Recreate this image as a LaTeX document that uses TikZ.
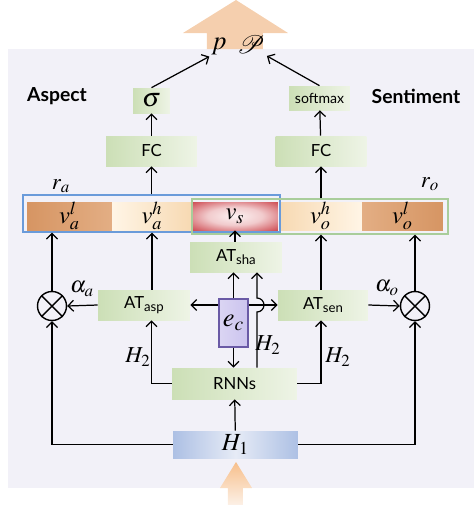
\documentclass[tikz,border=0pt]{standalone}
\usepackage{mathptmx}
\usepackage{mathrsfs}
\usepackage{amsmath}
\usepackage{fontspec}
\setsansfont{Lato}
\usetikzlibrary{arrows.meta,calc}

\definecolor{panelbg}{HTML}{F2F1F8}
\definecolor{peach}{HTML}{F5CFAE}
\definecolor{boxgreen}{HTML}{CCDFB6}
\definecolor{boxlight}{HTML}{EEF4E6}
\definecolor{cellbrown}{HTML}{D69563}
\definecolor{cellbrownl}{HTML}{E3AE84}
\definecolor{cream}{HTML}{FFF5E6}
\definecolor{creamd}{HTML}{F7D9B2}
\definecolor{vsred}{HTML}{C62F37}
\definecolor{vspink}{HTML}{FCF2F2}
\definecolor{hblue}{HTML}{ADC0E4}
\definecolor{hbluel}{HTML}{E6EBF6}
\definecolor{ecfill}{HTML}{CBC3EE}
\definecolor{ecline}{HTML}{6A5AA6}
\definecolor{raline}{HTML}{6A9BDA}
\definecolor{roline}{HTML}{A9CD9B}

\pgfdeclareradialshading{vsshade}{\pgfpoint{0bp}{0bp}}{color(0bp)=(vspink); color(16bp)=(vspink!80!vsred); color(40bp)=(vsred); color(50bp)=(vsred!92!black)}

\newcommand{\atsub}[1]{AT{\fontsize{7.5}{8}\selectfont\raisebox{-0.4ex}{#1}}}

\begin{document}
\begin{tikzpicture}[x=0.02cm,y=-0.02cm,
		arr/.style={-{Straight Barb[length=1.1mm,width=2.2mm]},line width=0.7pt},
		gbox/.style={left color=boxgreen,right color=boxlight,minimum width=1.84cm,minimum height=0.6cm,inner sep=0pt,font=\sffamily\fontsize{9.5}{10}\selectfont},
		cell/.style={minimum height=0.56cm,inner sep=0pt,font=\fontsize{14}{14}\selectfont},
		mul/.style={circle,draw,line width=0.8pt,minimum size=0.58cm,inner sep=0pt},
		lbl/.style={inner sep=1pt,font=\fontsize{13}{13}\selectfont},
		side/.style={font=\sffamily\bfseries\fontsize{11}{12}\selectfont}]
				
				\useasboundingbox (0,0) rectangle (474,505);
				\fill[panelbg] (8,49) rectangle (474,488);
				% output and input arrows
				\fill[peach] (183,33) -- (236,0) -- (288,33) -- (263,33) -- (263,49) -- (207,49) -- (207,33) -- cycle;
				\shade[top color=peach!80!orange,bottom color=peach!30] (220,488) -- (236,462) -- (252,488) -- (243,488) -- (243,505) -- (228,505) -- (228,488) -- cycle;
				
				\node[lbl,font=\fontsize{15}{15}\selectfont] (pp) at (219,46) {$p$};
				\node[lbl,font=\fontsize{15}{15}\selectfont] (PP) at (251,45) {$\mathscr{P}$};
				\node[side] (aspect) at (57,96) {Aspect};
				\node[side] (senti) at (416,96) {Sentiment};
				
				\node[gbox,minimum width=0.74cm,minimum height=0.5cm,font=\fontsize{15}{15}\selectfont] (sig) at (151.5,100.5) {$\sigma$};
				\node[gbox,minimum width=1.22cm,minimum height=0.48cm,font=\sffamily\fontsize{8}{9}\selectfont] (smax) at (319.5,98) {softmax};
				\node[gbox,minimum width=1.82cm] (fcA) at (151.5,151) {FC};
				\node[gbox,minimum width=1.82cm] (fcO) at (321,151) {FC};
				
				% vector row
				\node[cell,minimum width=1.7cm,left color=cellbrown,right color=cellbrownl] (cAl) at (69.5,216) {$v_a^l$};
				\node[cell,minimum width=1.6cm,left color=cream,right color=creamd] (cAh) at (152,216) {$v_a^h$};
				\node[cell,minimum width=1.72cm,shading=vsshade] (cS) at (235,216) {$v_s$};
				\node[cell,minimum width=1.66cm,left color=creamd,right color=cream] (cOh) at (320.5,216) {$v_o^h$};
				\node[cell,minimum width=1.62cm,left color=cellbrownl,right color=cellbrown] (cOl) at (402.5,216) {$v_o^l$};
				\node[draw=raline,line width=0.8pt,minimum width=5.14cm,minimum height=0.74cm] (ra) at (151.5,213.5) {};
				\node[draw=roline,line width=0.8pt,minimum width=5.12cm,minimum height=0.7cm] (ro) at (320,216.5) {};
				\node[lbl] (raL) at (61,186) {$r_a$};
				\node[lbl] (roL) at (430,184) {$r_o$};
				
				\node[gbox] (atsha) at (236,257) {\atsub{sha}};
				\node[gbox] (atasp) at (144,305) {\atsub{asp}};
				\node[gbox,minimum width=1.8cm] (atsen) at (323,305) {\atsub{sen}};
				\node[draw=ecline,line width=0.6pt,left color=ecfill!70!white,right color=ecfill,minimum width=0.58cm,minimum height=0.96cm,inner sep=0pt,font=\fontsize{15}{15}\selectfont] (ec) at (233.5,323) {$e_c$};
				\node[mul] (ml) at (52,306) {};
				\node[mul] (mr) at (415,306) {};
				\draw[line width=0.8pt] (ml.north west) -- (ml.south east) (ml.north east) -- (ml.south west);
				\draw[line width=0.8pt] (mr.north west) -- (mr.south east) (mr.north east) -- (mr.south west);
				\node[lbl] (alA) at (82,289) {$\alpha_a$};
				\node[lbl] (alO) at (387,288) {$\alpha_o$};
				
				\node[gbox,minimum width=2.5cm,minimum height=0.62cm] (rnn) at (234.5,383.5) {RNNs};
				\node[left color=hblue,right color=hblue,middle color=hbluel,minimum width=2.5cm,minimum height=0.54cm,inner sep=0pt,font=\fontsize{14}{14}\selectfont] (h1) at (235.5,444.5) {$H_1$};
				\coordinate (hx) at (257,0);
				
				% connectors
				\draw[arr] (sig.north) -- (pp.south west);
				\draw[arr] (smax.north) -- (PP.south east);
				\draw[arr] (fcA) -- (sig);
				\draw[arr] (fcO) -- (smax);
				\draw[arr] (ra.north -| fcA) -- (fcA.south);
				\draw[arr] (ro.north -| fcO) -- (fcO.south);
				\draw[arr] (ml.north) -- (ra.south -| ml);
				\draw[arr] (mr.north) -- (ro.south -| mr);
				\draw[arr] (atasp.north -| cAh) -- (ra.south -| cAh);
				\draw[arr] (atsen.north -| fcO) -- (ro.south -| fcO);
				\draw[arr] (atsha.north -| cS) -- (cS.south);
				\draw[arr] (atasp.west) -- (ml.east);
				\draw[arr] (atsen.east) -- (mr.west);
				\draw[arr] (atasp.east -| ec.west) -- (atasp.east);
				\draw[arr] (atsen.west -| ec.east) -- (atsen.west);
				\draw[arr] (ec.north) -- (ec.north |- atsha.south);
				\draw[arr] (ec.south) -- (ec.south |- rnn.north);
				\draw[arr] (rnn.north -| hx) -- ($(atsen.west -| hx)+(0,7)$) arc[start angle=-90,end angle=90,radius=0.14cm] -- (atsha.south -| hx);
				\draw[arr] (rnn.west) -| (atasp.south -| fcA);
				\draw[arr] (rnn.east) -| (atsen.south -| fcO);
				\draw[arr] (h1) -- (rnn);
				\draw[arr] (h1.west) -| (ml.south);
				\draw[arr] (h1.east) -| (mr.south);
				
				\node[lbl] (h2A) at (138,357) {$H_2$};
				\node[lbl] (h2S) at (268,345) {$H_2$};
				\node[lbl] (h2O) at (338,357) {$H_2$};
			\end{tikzpicture}
\end{document}
